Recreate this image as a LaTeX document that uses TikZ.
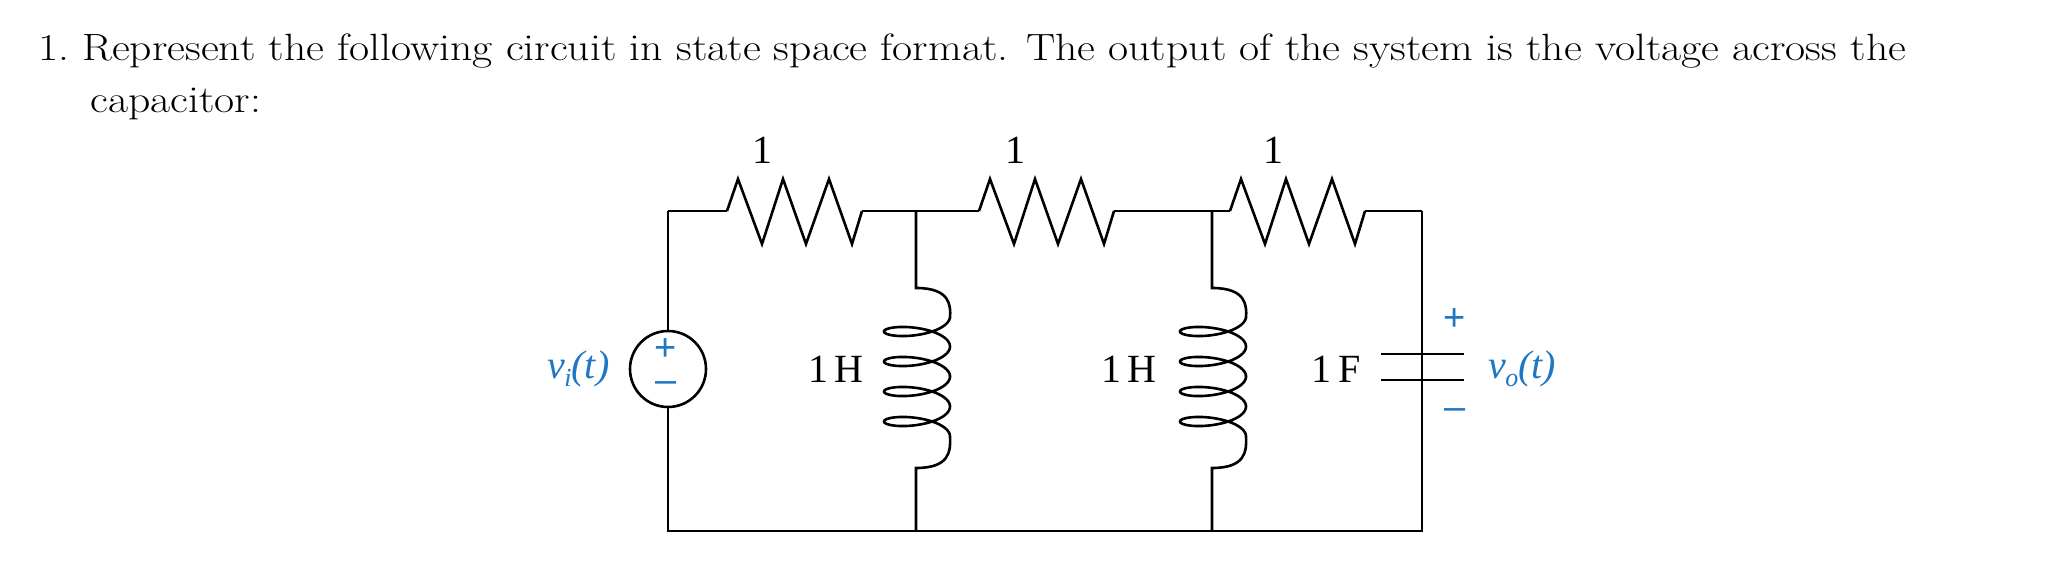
\documentclass[tikz,border=0pt]{standalone}
\usepackage{fontspec}
\newfontfamily\tms{Liberation Serif}
\newfontfamily\sns{Liberation Sans}
\definecolor{lblue}{RGB}{30,118,196}
\begin{document}
\begin{tikzpicture}[x=1pt,y=-1pt,line width=2.6pt,
  lbl/.style={font=\tms\fontsize{40}{44}\selectfont},
  blbl/.style={text=lblue},
  sgn/.style={font=\sns\fontsize{38}{38}\selectfont,text=lblue,inner sep=0pt},
  ttl/.style={anchor=base west,inner sep=0,font=\fontsize{38}{44}\selectfont}]
\useasboundingbox (0,0) rectangle (2046,578);
\node[ttl] (l1) at (37,60) {\scalebox{1.15}[1]{1.\ Represent the following circuit in state space format. The output of the system is the voltage across the}};
\node[ttl] (l2) at (89,112) {\scalebox{1.15}[1]{capacitor:}};
% nodes
\coordinate (tl) at (668,211); \coordinate (n1) at (916,211); \coordinate (n2) at (1212,211); \coordinate (tr) at (1422,211);
\coordinate (bl) at (668,531); \coordinate (b1) at (916,531); \coordinate (b2) at (1212,531); \coordinate (br) at (1422,531);
% resistors
\foreach \o in {0,252,503}{
\draw (727+\o,211) -- (738+\o,179) -- (762+\o,244) -- (783+\o,179) -- (806+\o,244) -- (829+\o,179) -- (852+\o,244) -- (862+\o,211);
}
\draw (tl) -- (727,211); \draw (862,211) -- (n1) -- (979,211); \draw (1114,211) -- (n2) -- (1230,211); \draw (1365,211) -- (tr);
\node[lbl] (r1) at (762,150) {1};
\node[lbl] (r2) at (1015,150) {1};
\node[lbl] (r3) at (1273,150) {1};
% source
\node[draw,circle,minimum size=76pt,inner sep=0] (src) at (668,369) {};
\draw (tl) -- (src.north); \draw (src.south) -- (bl) -- (b1) -- (b2) -- (br) -- (tr);
\node[sgn] (sp) at (666,350) {+};
\node[sgn] (sm) at (666,387) {\textendash};
\node[blbl,anchor=east] (vi) at (614,369) {\tms\fontsize{40}{44}\selectfont\itshape v\kern-1pt\raisebox{-8pt}{\fontsize{26}{26}\selectfont i}(t)};
% inductors
\foreach \xw in {916,1212}{
  \draw (\xw,211) -- (\xw,288) .. controls (\xw+34,288) and (\xw+35,305) .. (\xw+34,318)
    plot[smooth,samples=240,domain=90:1530,variable=\t] ({\xw+1+33*sin(\t)},{309+\t/12-11*cos(\t)})
    .. controls (\xw+35,452) and (\xw+33,468) .. (\xw,468) -- (\xw,531);
}
\node[lbl] (lh1) at (836,369) {1\,H};
\node[lbl] (lh2) at (1129,369) {1\,H};
% capacitor
\coordinate (cp) at (1422,354); \coordinate (cm) at (1422,380);
\draw (tr) -- (cp); \draw (cm) -- (br);
\draw (1381,354) -- (1464,354); \draw (1381,380) -- (1464,380);
\node[lbl] (lf) at (1336,369) {1\,F};
\node[sgn] (cpl) at (1455,320) {+};
\node[sgn] (cmn) at (1455,414) {\textendash};
\node[blbl,anchor=west] (vo) at (1484,369) {\tms\fontsize{40}{44}\selectfont\itshape v\kern-1pt\raisebox{-8pt}{\fontsize{26}{26}\selectfont o}(t)};
\end{tikzpicture}
\end{document}
